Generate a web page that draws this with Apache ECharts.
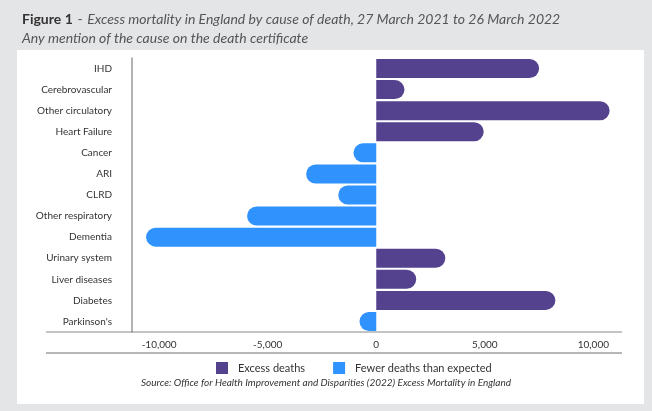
<!DOCTYPE html>
<html>
<head>
<meta charset="utf-8">
<script src="https://cdn.jsdelivr.net/npm/echarts@6/dist/echarts.min.js"></script>
<style>
  html, body { margin: 0; padding: 0; background: #e4e5e7; }
  #chart { width: 652px; height: 411px; }
</style>
</head>
<body>
<div id="chart"></div>
<script>
// causes of death, top to bottom
const causes = ['IHD', 'Cerebrovascular', 'Other circulatory', 'Heart Failure', 'Cancer', 'ARI',
  'CLRD', 'Other respiratory', 'Dementia', 'Urinary system', 'Liver diseases', 'Diabetes', "Parkinson's"]
// excess deaths (positive), '-' where none
const excessDeaths = [7500, 1300, 10750, 4950, '-', '-', '-', '-', '-', 3180, 1840, 8250, '-']
// fewer deaths than expected (negative), '-' where none
const fewerDeaths = ['-', '-', '-', '-', -1050, -3230, -1750, -5950, -10600, '-', '-', '-', -770]
// x axis tick labels
const xTicks = [-10000, -5000, 0, 5000, 10000]

const chart = echarts.init(document.getElementById('chart'))
const font = 'Lato, "Noto Sans", sans-serif'

const option = {
  backgroundColor: '#e4e5e7',
  textStyle: { fontFamily: font },
  animation: false,
  title: {
    left: 17,
    top: 5,
    text: '{b|Figure 1} {n|-} {i|Excess mortality in England by cause of death, 27 March 2021 to 26 March 2022}\n{i|Any mention of the cause on the death certificate}',
    textStyle: {
      fontFamily: font,
      fontWeight: 'normal',
      lineHeight: 19,
      rich: {
        b: { fontWeight: 'bold', fontSize: 14, color: '#333', fontFamily: font },
        n: { fontWeight: 'normal', fontSize: 14, color: '#555', fontFamily: font },
        i: { fontWeight: 'normal', fontStyle: 'italic', fontSize: 14, color: '#555', fontFamily: font, lineHeight: 19 }
      }
    }
  },
  graphic: [
    // white panel
    { type: 'rect', z: -10, shape: { x: 17, y: 50, width: 627, height: 354 }, style: { fill: '#fff' } },
    // lines framing the tick label row
    { type: 'line', z: 5, shape: { x1: 46, y1: 332, x2: 622, y2: 332 }, style: { stroke: '#8a8a8a', lineWidth: 1.2 } },
    { type: 'line', z: 5, shape: { x1: 46, y1: 353, x2: 622, y2: 353 }, style: { stroke: '#6e6e6e', lineWidth: 1.2 } },
    {
      type: 'text', left: 'center', top: 378, z: 5,
      style: {
        text: 'Source: Office for Health Improvement and Disparities (2022) Excess Mortality in England',
        fontStyle: 'italic', fontSize: 10, fill: '#333', fontFamily: font
      }
    }
  ],
  legend: {
    left: 211,
    top: 357,
    icon: 'rect',
    itemWidth: 12,
    itemHeight: 12,
    itemGap: 28,
    textStyle: { fontSize: 11, color: '#333', padding: [0, 0, 0, 5] },
    data: ['Excess deaths', 'Fewer deaths than expected']
  },
  grid: { left: 132, right: 30, top: 58, bottom: 79, containLabel: false },
  xAxis: {
    type: 'value',
    min: -11250,
    max: 11320,
    splitLine: { show: false },
    axisLine: { show: false },
    axisTick: { show: false },
    axisLabel: {
      customValues: xTicks,
      margin: 8,
      fontSize: 10,
      color: '#333',
      formatter: v => v.toLocaleString('en-GB')
    }
  },
  yAxis: {
    type: 'category',
    data: causes,
    inverse: true,
    axisLine: { onZero: false, lineStyle: { color: '#999', width: 1.5 } },
    axisTick: { show: false },
    axisLabel: { margin: 20, fontSize: 10, color: '#333' }
  },
  series: [
    {
      name: 'Excess deaths',
      type: 'bar',
      data: excessDeaths,
      barWidth: 19,
      barGap: '-100%',
      itemStyle: { color: '#55428f', borderRadius: [0, 10, 10, 0] }
    },
    {
      name: 'Fewer deaths than expected',
      type: 'bar',
      data: fewerDeaths,
      barWidth: 19,
      itemStyle: { color: '#2f92fd', borderRadius: [10, 0, 0, 10] }
    }
  ]
}
chart.setOption(option)
</script>
</body>
</html>
